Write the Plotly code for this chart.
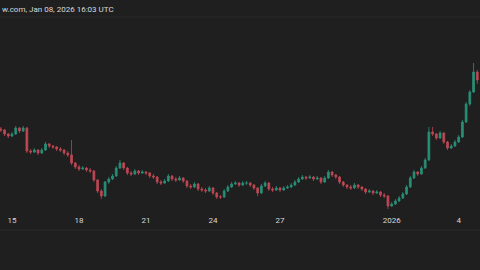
import pandas as pd
import plotly.graph_objects as go

# 4-hour candles, starting 14 Dec 2025 12:00 UTC
start_time = "2025-12-14 12:00"
opens = [121,120,116,114,116,122,119,122,99,98,100,97,100,106,104,103,101,100,97,95,87,83,81,82,80,79,70,59,54,68,71,74,82,87,82,77,76,79,77,78,77,74,73,68,67,69,74,71,70,72,69,64,63,66,61,60,59,62,57,53,53,59,63,66,67,65,67,67,65,62,57,64,67,61,60,62,60,62,63,65,68,71,73,72,73,71,72,68,72,78,75,73,68,65,63,62,65,63,61,58,59,57,58,55,54,44,46,49,52,56,63,72,78,76,82,90,118,116,112,117,108,102,104,108,113,128,146,158,178]
highs = [123,121,117,118,124,123,124,123,101,102,101,102,108,107,105,104,103,101,99,110,88,85,84,83,82,80,71,61,69,73,76,84,90,88,83,79,81,80,80,79,78,76,74,70,71,76,75,73,74,73,70,66,68,67,63,62,64,63,58,55,61,65,68,69,68,69,69,68,66,63,66,69,68,63,64,63,64,65,67,70,73,75,74,75,74,74,73,74,80,79,76,74,69,66,65,67,66,64,62,61,60,60,59,57,55,48,51,54,58,65,74,80,79,84,92,123,123,117,119,118,109,106,110,115,130,148,160,187,180]
lows = [118,114,112,113,115,117,118,97,96,97,95,96,99,102,101,99,98,95,93,85,81,79,80,78,77,68,57,51,53,66,70,73,81,80,75,74,75,75,76,75,72,71,66,65,66,68,69,68,69,67,62,61,62,59,58,57,58,55,51,51,52,58,62,65,63,64,65,63,60,54,56,63,59,58,59,58,59,61,62,64,67,70,70,71,69,70,66,67,71,73,71,66,63,61,60,61,61,59,56,57,55,56,53,52,41,43,45,48,51,55,62,71,74,75,81,89,114,110,111,106,100,101,103,107,112,127,144,157,166]
closes = [120,116,114,116,122,119,122,99,98,100,97,100,106,104,103,101,100,97,95,87,83,81,82,80,79,70,59,54,68,71,74,82,87,82,77,76,79,77,78,77,74,73,68,67,69,74,71,70,72,69,64,63,66,61,60,59,62,57,53,53,59,63,66,67,65,67,67,65,62,57,64,67,61,60,62,60,62,63,65,68,71,73,72,73,71,72,68,72,78,75,73,68,65,63,62,65,63,61,58,59,57,58,55,54,44,46,49,52,56,63,72,78,76,82,90,118,116,112,117,108,102,104,108,113,128,146,158,178,170]

tick_vals = ["2025-12-15", "2025-12-18", "2025-12-21", "2025-12-24", "2025-12-27", "2026-01-01", "2026-01-04"]
tick_text = ["15", "18", "21", "24", "27", "2026", "4"]
header = "w.com, Jan 08, 2026 16:03 UTC"

n = min(len(opens), len(highs), len(lows), len(closes))
times = pd.date_range(start_time, periods=n, freq="4h")

BG = "#1f1f1f"
fig = go.Figure(go.Candlestick(
    x=times, open=opens[:n], high=highs[:n], low=lows[:n], close=closes[:n],
    increasing=dict(line=dict(color="#2a9d82", width=0.8), fillcolor="#2a9d82"),
    decreasing=dict(line=dict(color="#d24d5a", width=0.8), fillcolor="#d24d5a"),
    opacity=0.9,
    hoverinfo="skip",
))

fig.update_layout(
    width=480, height=270,
    margin=dict(l=0, r=0, t=0, b=58),
    paper_bgcolor=BG, plot_bgcolor=BG,
    showlegend=False,
    xaxis=dict(
        type="date",
        range=["2025-12-14 11:06", "2026-01-04 22:55"],
        rangeslider=dict(visible=False),
        tickvals=tick_vals, ticktext=tick_text,
        tickfont=dict(family="Roboto", size=8, color="#d8d8d8"),
        ticklabelstandoff=2,
        showgrid=False, zeroline=False, showline=False, ticks="",
    ),
    yaxis=dict(range=[38, 250], visible=False, showgrid=False),
    shapes=[
        dict(type="line", xref="paper", yref="paper", x0=0, x1=1,
             y0=(212 - 17) / 212, y1=(212 - 17) / 212,
             line=dict(color="#2b2b2b", width=1)),
        dict(type="line", xref="paper", yref="paper", x0=0, x1=1,
             y0=-(230 - 212) / 212, y1=-(230 - 212) / 212,
             line=dict(color="#2b2b2b", width=1)),
    ],
    annotations=[
        dict(text=header, xref="paper", yref="paper", x=0, y=(212 - 9) / 212,
             xanchor="left", yanchor="middle", showarrow=False,
             font=dict(family="Roboto", size=8, color="#d8d8d8")),
    ],
)

fig.write_html("out.html")
